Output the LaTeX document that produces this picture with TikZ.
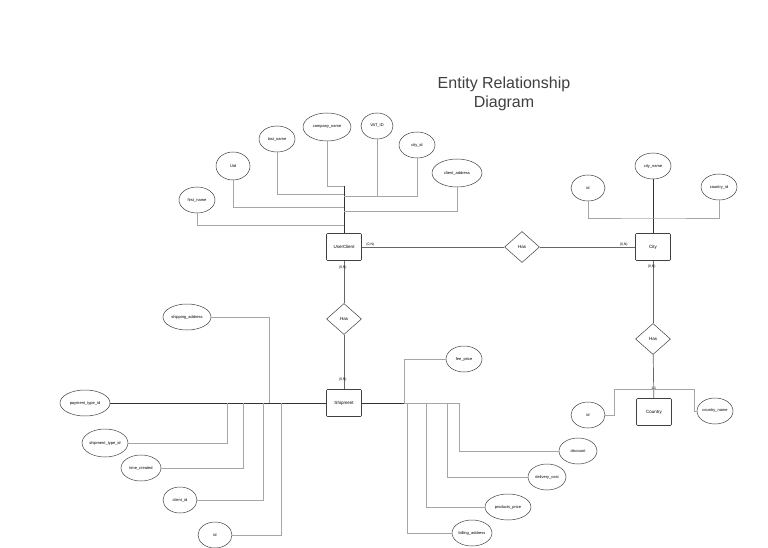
\documentclass[tikz,border=0pt]{standalone}
\usepackage{fontspec}
\setmainfont{Liberation Sans}
\usetikzlibrary{shapes.geometric}
\begin{document}
\begin{tikzpicture}[x=1pt,y=-1pt,
  attr/.style={ellipse,draw=black!75,line width=0.5pt,minimum width=36pt,minimum height=26pt,inner sep=0pt,font=\fontsize{4}{5}\selectfont},
  ent/.style={rectangle,draw=black!75,line width=0.6pt,rounded corners=1pt,minimum width=35pt,minimum height=27pt,inner sep=0pt,font=\fontsize{4.5}{5}\selectfont},
  rel/.style={diamond,draw=black!75,line width=0.5pt,minimum width=35pt,minimum height=31pt,inner sep=0pt,font=\fontsize{4.5}{5}\selectfont},
  thin/.style={draw=black!35,line width=0.5pt},
  bold/.style={draw=black!80,line width=1pt},
  rl/.style={draw=black!60,line width=0.7pt},
  card/.style={font=\fontsize{3.5}{4}\selectfont,inner sep=0.5pt}]
\useasboundingbox (0,0) rectangle (768,548);
\fill[white] (0,0) rectangle (768,548);
\node[text=black!75,font=\fontsize{16}{19}\selectfont,align=center] (title) at (504,94) {Entity Relationship\\Diagram};
% entities
\node[ent] (uc) at (344,247) {UserClient};
\node[ent] (city) at (653,247) {City};
\node[ent] (country) at (654,412) {Country};
\node[ent] (ship) at (344,403) {Shipment};
% relations
\node[rel] (has1) at (522,247) {Has};
\node[rel] (has2) at (653,339) {Has};
\node[rel] (has3) at (344,319) {Has};
\draw[rl] (uc) -- node[card,pos=0.06,above]{(0,N)} (has1);
\draw[rl] (has1) -- node[card,pos=0.88,above]{(0,N)} (city);
\draw[rl] (city) -- node[card,pos=0.1,right=-6pt]{(0,N)} (has2);
\draw[rl] (has2) -- node[card,pos=0.8,above=-1pt]{1,1} (country);
\draw[rl] (uc) -- node[card,pos=0.15,right=-6pt]{(0,N)} (has3);
\draw[rl] (has3) -- node[card,pos=0.82,right=-6pt]{(0,N)} (ship);
% UserClient attributes
\node[attr] (fn) at (197,200) {first\_name};
\node[attr,minimum width=34pt,minimum height=28pt] (uid) at (233,166) {Uid};
\node[attr] (ln) at (277,139) {last\_name};
\node[attr,minimum width=48pt,minimum height=28pt] (cn) at (327,127) {company\_name};
\node[attr,minimum width=32pt] (vat) at (377,126) {VAT\_ID};
\node[attr] (cid) at (417,145) {city\_id};
\node[attr,minimum width=50pt,minimum height=28pt] (ca) at (457,173) {client\_address};
\coordinate (ut) at (344,186);
\draw[bold] (ut) -- (uc.north);
\draw[thin] (cn.south) |- (ut);
\draw[thin] (vat.south) |- (344,196);
\draw[thin] (ln.south) |- (344,194);
\draw[thin] (cid.south) |- (344,196);
\draw[thin] (uid.south) |- (344,207);
\draw[thin] (ca.south) |- (344,211);
\draw[thin] (fn.south) |- (344,225);
% City attributes
\node[attr,minimum width=34pt] (cityid) at (588,188) {id};
\node[attr] (cname) at (653,166) {city\_name};
\node[attr] (ctid) at (719,187) {country\_id};
\draw[bold] (cname) -- (city);
\draw[thin] (cityid.south) |- (653,218) -| (ctid.south);
% Country attributes
\node[attr,minimum width=34pt] (coid) at (588,415) {id};
\node[attr] (coname) at (715,411) {country\_name};
\draw[thin] (coid.east) -| (614,389) -- (694,389) |- (coname.west);
% Shipment attributes left
\node[attr,minimum width=50pt] (pt) at (85,403) {payment\_type\_id};
\node[attr,minimum width=48pt] (sa) at (187,317) {shipping\_address};
\node[attr,minimum width=46pt,minimum height=28pt] (st) at (105,443) {shipment\_type\_id};
\node[attr,minimum width=40pt] (tc) at (141,468) {time\_created};
\node[attr,minimum width=34pt] (clid) at (180,500) {client\_id};
\node[attr,minimum width=34pt] (sid) at (215,535) {id};
\draw[bold] (pt) -- (ship);
\draw[thin] (sa.east) -| (269,403);
\draw[thin] (st.east) -| (227,403);
\draw[thin] (tc.east) -| (243,403);
\draw[thin] (clid.east) -| (263,403);
\draw[thin] (sid.east) -| (281,403);
% Shipment attributes right
\node[attr] (fee) at (464,359) {fee\_price};
\node[attr,minimum width=40pt] (ba) at (472,533) {billing\_address};
\node[attr,minimum width=46pt] (pp) at (508,507) {products\_price};
\node[attr,minimum width=38pt] (dc) at (547,477) {delivery\_cost};
\node[attr,minimum width=38pt] (dis) at (578,451) {discount};
\draw[bold] (ship.east) -- (404,403);
\draw[thin] (404,403) -- (459,403);
\draw[thin] (fee.west) -| (404,403);
\draw[thin] (ba.west) -| (407,403);
\draw[thin] (pp.west) -| (426,403);
\draw[thin] (dc.west) -| (447,403);
\draw[thin] (dis.west) -| (459,403);
\end{tikzpicture}
\end{document}
